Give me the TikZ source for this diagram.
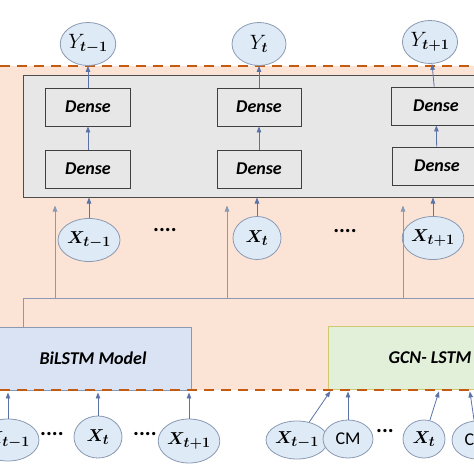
\documentclass[tikz,border=0pt]{standalone}
\usepackage{fontspec}
\setsansfont{Carlito}
\usepackage{amsmath}
\usepackage{bm}
\usetikzlibrary{shapes.geometric,arrows.meta}

\definecolor{peach}{HTML}{FBE4D6}
\definecolor{cutc}{HTML}{C55A11}
\definecolor{panelc}{HTML}{E8E7E7}
\definecolor{varc}{HTML}{DEEBF7}
\definecolor{linkc}{HTML}{5B72A6}
\definecolor{wirec}{HTML}{8A98B2}
\definecolor{bilc}{HTML}{DAE3F3}
\definecolor{gcnc}{HTML}{E2EFD9}

\begin{document}
\begin{tikzpicture}[x=1pt, y=-1pt,
  dense/.style={draw=black!75, fill=panelc, line width=0.9pt, minimum width=85pt, minimum height=38pt,
    font=\sffamily\bfseries\itshape\fontsize{18}{18}\selectfont},
  var/.style={ellipse, draw=wirec, fill=varc, line width=0.8pt, minimum width=48pt, minimum height=43pt,
    inner sep=0pt, font=\fontsize{19}{19}\selectfont},
  model/.style={draw, line width=0.9pt, minimum height=63pt, font=\sffamily\bfseries\itshape\fontsize{18}{18}\selectfont},
  link/.style={-{Triangle[length=6pt,width=4.5pt]}, draw=linkc, line width=0.8pt},
  wire/.style={draw=wirec, line width=1pt},
  cut/.style={draw=cutc, line width=2.6pt, dash pattern=on 10pt off 7pt},
  dots/.style={font=\sffamily\bfseries\fontsize{22}{22}\selectfont}]
\useasboundingbox (0,0) rectangle (474,474);
\clip (0,0) rectangle (474,474);

% band
\fill[peach] (0,66) rectangle (474,390);
\draw[cut] (0,66) -- (474,66);

% dense stack
\node[draw=black!70, fill=panelc, line width=1pt, minimum width=467pt, minimum height=122pt] (panel) at (256.5,136) {};
\node[dense] (d1a) at (88,107) {Dense};
\node[dense] (d1b) at (88,169) {Dense};
\node[dense, minimum width=84pt] (d2a) at (259,107) {Dense};
\node[dense, minimum width=84pt] (d2b) at (259,169) {Dense};
\node[dense, minimum width=90pt] (d3a) at (436,106) {Dense};
\node[dense, minimum width=90pt] (d3b) at (437,166) {Dense};

% outputs
\node[var, minimum width=54pt, font=\fontsize{22}{22}\selectfont] (y1) at (88,44) {$Y_{\bm{t-1}}$};
\node[var, minimum width=54pt, font=\fontsize{22}{22}\selectfont] (y2) at (259,44) {$Y_{\bm{t}}$};
\node[var, minimum width=55pt, font=\fontsize{22}{22}\selectfont] (y3) at (430,42) {$Y_{\bm{t+1}}$};
\foreach \c in {1,2,3} {
  \draw[link] (d\c b) -- (d\c a);
  \draw[link] (d\c a) -- (y\c);
}

% inputs to the dense stack
\node[var] (x1) at (89,240) {$\bm{X_{t-1}}$};
\node[var] (x2) at (257,238) {$\bm{X_{t}}$};
\node[var, minimum width=46pt] (x3) at (433,238) {$\bm{X_{t+1}}$};
\node[dots] (m1) at (165,230) {....};
\node[dots] (m2) at (345,231) {....};
\foreach \c in {1,2,3}
  \draw[link] (x\c.north) -- (x\c.north |- panel.south);

% models
\node[model, draw=wirec, fill=bilc, minimum width=196pt] (bil) at (93,358.5) {BiLSTM Model};
\node[model, draw=olive!45, fill=gcnc, minimum width=256pt] (gcn) at (456,357.5) {GCN- LSTM Model};

% bus
\coordinate (busL) at (23,298);
\coordinate (busR) at (490,298);
\draw[wire] (busL |- bil.north) -- (busL) -- (busR);
\foreach \x [count=\i] in {55,227,403} {
  \coordinate (up\i) at (\x,298);
  \draw[link, draw=wirec, shorten >=8pt] (up\i) -- (up\i |- panel.south);
}

% BiLSTM inputs
\node[var, minimum height=42pt] (b1) at (8,440) {$\bm{X_{t-1}}$};
\node[var, minimum height=42pt] (b2) at (98,437) {$\bm{X_{t}}$};
\node[var, minimum width=45pt, minimum height=44pt] (b3) at (189,441) {$\bm{X_{t+1}}$};
\node[dots] (m3) at (52,434) {....};
\node[dots] (m4) at (145,434) {....};
\foreach \c in {1,2,3}
  \draw[link, shorten >=2pt] (b\c.north) -- (b\c.north |- bil.south);

% GCN-LSTM inputs
\node[var, minimum width=51pt, minimum height=38pt] (g1) at (297,440) {$\bm{X_{t-1}}$};
\node[var, minimum width=50pt, minimum height=38pt, font=\sffamily\fontsize{18}{18}\selectfont] (cm1) at (348,439) {CM};
\node[dots] (m5) at (385,431) {...};
\node[var, minimum width=42pt, minimum height=38pt] (g2) at (424,439) {$\bm{X_{t}}$};
\node[var, minimum width=50pt, minimum height=38pt, font=\sffamily\fontsize{18}{18}\selectfont] (cm2) at (477,440) {CM};
\draw[link, shorten >=2pt] (g1) -- ([xshift=4pt]gcn.south west);
\draw[link, shorten >=2pt] (cm1.north) -- (cm1.north |- gcn.south);
\draw[link, shorten >=2pt] (g2) -- ([xshift=112pt]gcn.south west);
\draw[link, shorten >=2pt] (cm2) -- ([xshift=142pt]gcn.south west);

\draw[cut] (0,390) -- (474,390);
\end{tikzpicture}
\end{document}
